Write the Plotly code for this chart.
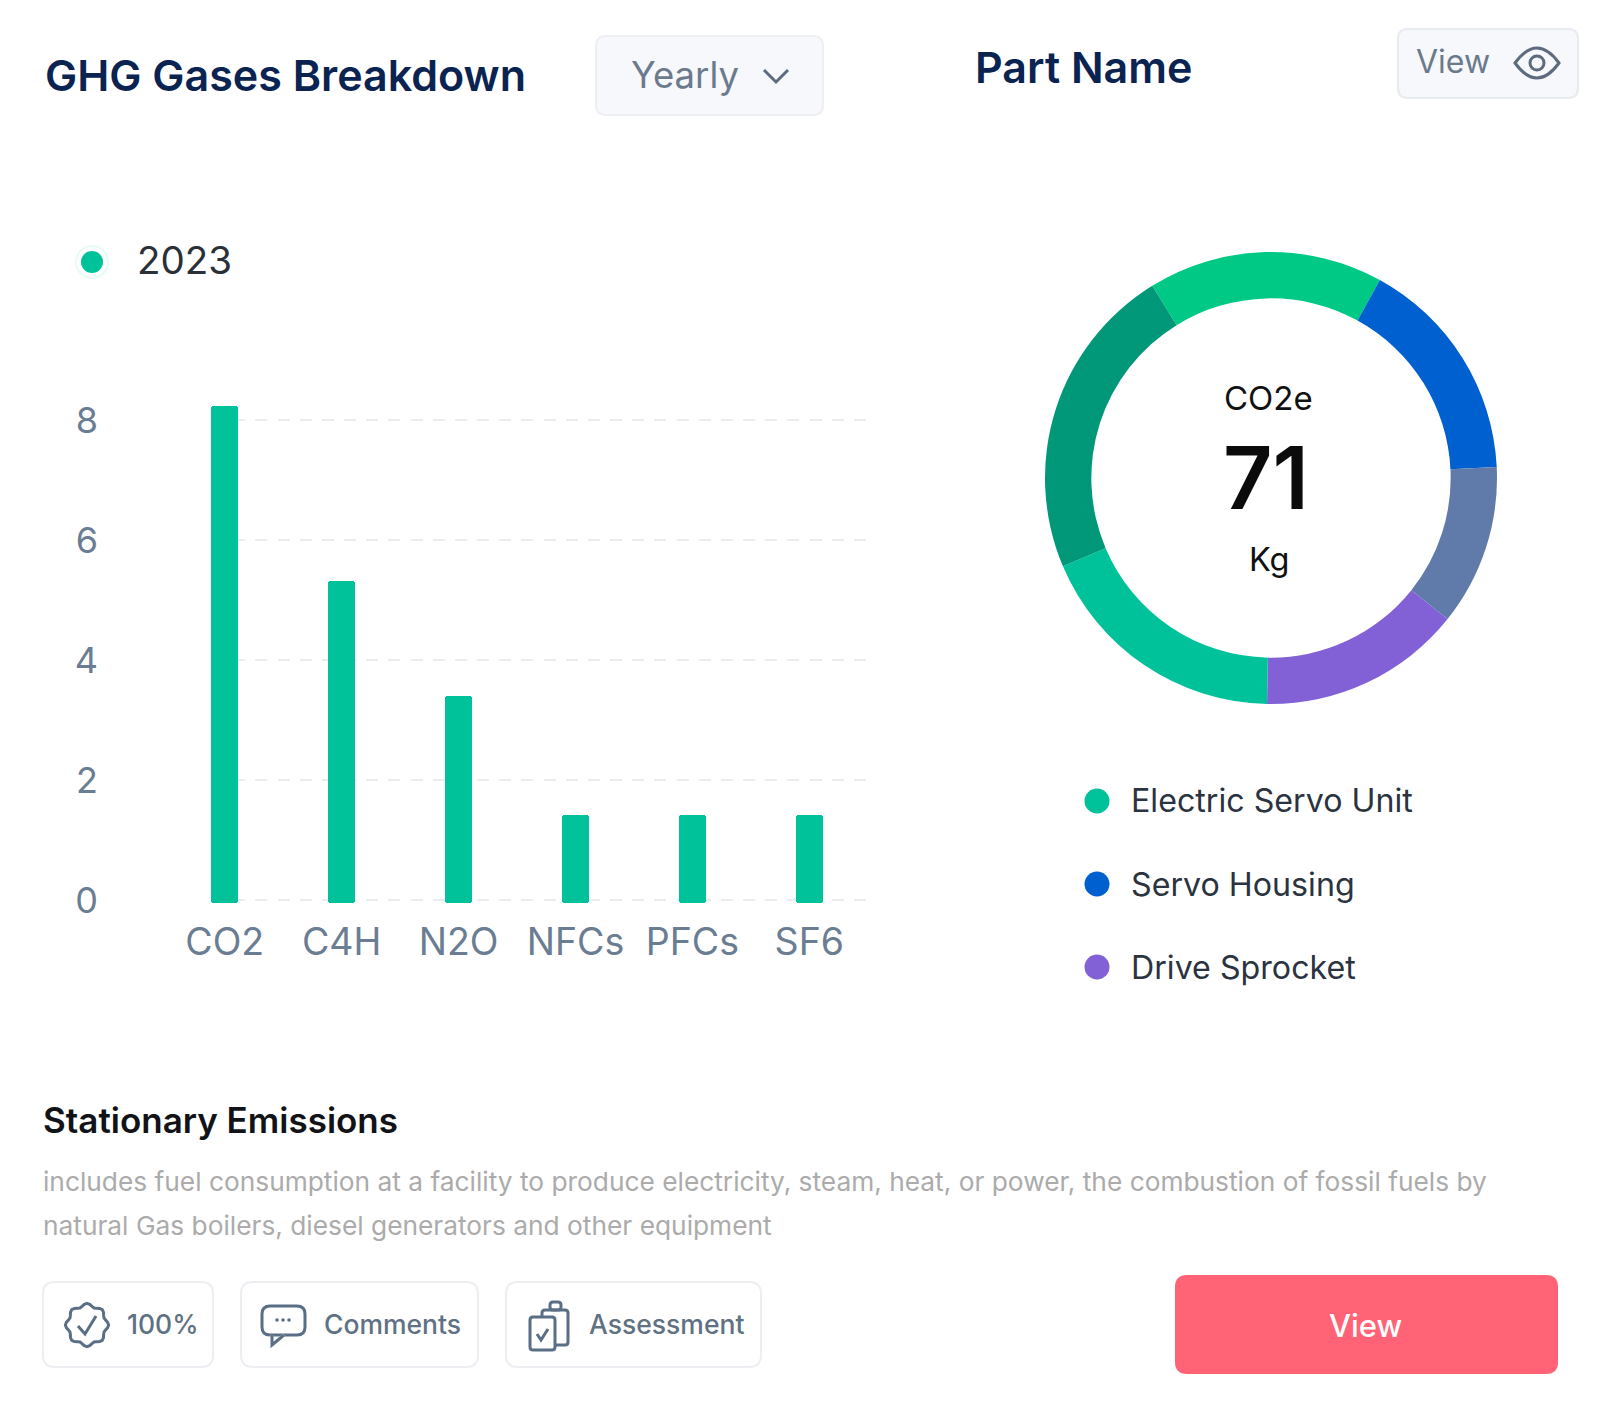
import math

import plotly.graph_objects as go

# bar chart
gases = ["CO2", "C4H", "N2O", "NFCs", "PFCs", "SF6"]
gas_values = [8.23, 5.32, 3.4, 1.42, 1.42, 1.42]
y_ticks = [0, 2, 4, 6, 8]
bar_year = "2023"

# donut, clockwise from the bright green slice
slice_names = ["Part A", "Servo Housing", "Part B", "Drive Sprocket", "Electric Servo Unit", "Part C"]
slice_values = [11.93, 11.52, 8.17, 10.33, 13.02, 16.03]
slice_colors = ["#00C985", "#0060CF", "#607BAA", "#8261D6", "#00C29A", "#009878"]
donut_total = "71"

legend_names = ["Electric Servo Unit", "Servo Housing", "Drive Sprocket"]
legend_colors = ["#00C29A", "#0060CF", "#8261D6"]

description = [
    "includes fuel consumption at a facility to produce electricity, steam, heat, or power, the combustion of fossil fuels by",
    "natural Gas boilers, diesel generators and other equipment",
]

FONT = "Inter"
W, H = 1584, 1404
PAGE_OFFSET = 8  # default body margin of the page
BAR_FOOT = 0.05  # bars start a little under the zero line


def fx(x):
    return (x - PAGE_OFFSET) / W


def fy(y):
    return 1 - (y - PAGE_OFFSET) / H


def round_rect(x0, y0, x1, y1, r):
    """Rounded rectangle as a paper-referenced svg path."""
    return (
        f"M {fx(x0 + r)} {fy(y0)} L {fx(x1 - r)} {fy(y0)} Q {fx(x1)} {fy(y0)} {fx(x1)} {fy(y0 + r)} "
        f"L {fx(x1)} {fy(y1 - r)} Q {fx(x1)} {fy(y1)} {fx(x1 - r)} {fy(y1)} "
        f"L {fx(x0 + r)} {fy(y1)} Q {fx(x0)} {fy(y1)} {fx(x0)} {fy(y1 - r)} "
        f"L {fx(x0)} {fy(y0 + r)} Q {fx(x0)} {fy(y0)} {fx(x0 + r)} {fy(y0)} Z"
    )


def polyline(pts, close=False):
    s = " ".join(("M" if i == 0 else "L") + f" {fx(x)} {fy(y)}" for i, (x, y) in enumerate(pts))
    return s + (" Z" if close else "")


def add_path(fig, path, line="#5A6F85", width=3, fill=None):
    fig.add_shape(
        type="path", path=path, xref="paper", yref="paper",
        line=dict(color=line, width=width) if line else dict(width=0),
        fillcolor=fill,
    )


def add_circle(fig, cx, cy, r, fill=None, line=None, width=0):
    fig.add_shape(
        type="circle", xref="paper", yref="paper",
        x0=fx(cx - r), x1=fx(cx + r), y0=fy(cy + r), y1=fy(cy - r),
        fillcolor=fill, line=dict(color=line, width=width) if line else dict(width=0),
    )


def add_text(fig, x, y, text, size, color, weight=400, anchor="left"):
    fig.add_annotation(
        x=fx(x), y=fy(y), xref="paper", yref="paper", text=text, showarrow=False,
        xanchor=anchor, yanchor="middle", align=anchor,
        font=dict(family=FONT, size=size, color=color, weight=weight),
    )


fig = go.Figure()

fig.add_trace(
    go.Bar(
        x=gases,
        y=[v + BAR_FOOT for v in gas_values],
        base=-BAR_FOOT,
        width=0.235,
        marker=dict(color="#00C29A", cornerradius=3, line=dict(width=0)),
        showlegend=False,
        name=bar_year,
    )
)
fig.add_trace(
    go.Pie(
        labels=slice_names,
        values=slice_values,
        marker=dict(colors=slice_colors, line=dict(width=0)),
        hole=0.795,
        sort=False,
        direction="clockwise",
        rotation=328.3,
        textinfo="none",
        domain=dict(x=[fx(1045), fx(1497)], y=[fy(704), fy(252)]),
        showlegend=False,
    )
)

# header
add_text(fig, 43, 75, "GHG Gases Breakdown", 43, "#0A2351", 600)
add_path(fig, round_rect(596, 36, 823, 115, 10), line="#EDEFF3", width=2, fill="#F6F8FB")
add_text(fig, 629, 75, "Yearly", 36.5, "#6B7A8D")
add_path(fig, polyline([(764, 70), (776, 82), (788, 70)]), line="#5C6B7D", width=3)
add_text(fig, 973, 67, "Part Name", 43, "#0A2351", 600)
add_path(fig, round_rect(1398, 29, 1578, 98, 10), line="#E8EBF0", width=2, fill="#F6F8FB")
add_text(fig, 1414, 62, "View", 32, "#6B7A8D")
# eye icon
add_path(
    fig,
    f"M {fx(1515)} {fy(63)} Q {fx(1537)} {fy(33)} {fx(1559)} {fy(63)} "
    f"Q {fx(1537)} {fy(93)} {fx(1515)} {fy(63)} Z",
    line="#5C6B7D", width=3,
)
add_circle(fig, 1537, 63, 7, line="#5C6B7D", width=3)

# bar legend
add_circle(fig, 92, 262, 17, fill="#E8FAF5")
add_circle(fig, 92, 262, 15, fill="#FFFFFF")
add_circle(fig, 92, 262, 11, fill="#00C29A")
add_text(fig, 135, 260, bar_year, 38.5, "#2B2F38")

# donut centre
add_text(fig, 1268, 398, "CO2e", 33, "#111111", anchor="center")
add_text(fig, 1266, 478, donut_total, 86, "#0B0B0B", 600, anchor="center")
add_text(fig, 1269, 560, "Kg", 32.5, "#111111", anchor="center")

# donut legend
for name, color, y in zip(legend_names, legend_colors, [801, 884, 967]):
    add_circle(fig, 1097, y, 12.5, fill=color)
    add_text(fig, 1129, y, name, 32.2, "#2B3340")

# lower text block
add_text(fig, 41, 1120, "Stationary Emissions", 35, "#111318", 600)
add_text(fig, 41, 1181, description[0], 26.3, "#ABABAB")
add_text(fig, 41, 1225, description[1], 26.3, "#ABABAB")

# small buttons
for x0, x1, tx, label in [
    (43, 213, 125, "100%"),
    (241, 478, 322, "Comments"),
    (506, 761, 587, "Assessment"),
]:
    add_path(fig, round_rect(x0, 1282, x1, 1367, 12), line="#ECEEF1", width=2, fill="#FFFFFF")
    add_text(fig, tx, 1324, label, 26.5, "#5F7183", 500)

# badge icon
badge = []
for i in range(48):
    a = 2 * math.pi * i / 48
    r = 20 + 1.6 * math.cos(8 * a)
    badge.append((87 + r * math.sin(a), 1325 - r * math.cos(a)))
add_path(fig, polyline(badge, close=True))
add_path(fig, polyline([(78, 1326), (85, 1334), (96, 1316)]))

# chat icon
add_path(fig, round_rect(262, 1306, 305, 1335, 8))
add_path(fig, polyline([(272, 1335), (272, 1345), (284, 1335)]), line="#FFFFFF", width=3)
add_path(fig, polyline([(272, 1335), (272, 1345), (284, 1335)]))
for dot_x in [277, 283, 289]:
    add_circle(fig, dot_x, 1320, 1.8, fill="#5A6F85")

# clipboard icon
add_path(fig, round_rect(542, 1310, 568, 1345, 3))
add_path(fig, round_rect(530, 1317, 555, 1350, 3), fill="#FFFFFF")
add_path(fig, round_rect(550, 1302, 561, 1310, 3))
add_path(fig, polyline([(537, 1334), (541, 1340), (548, 1329)]))

# primary button
add_path(fig, round_rect(1175, 1275, 1558, 1374, 12), line=None, fill="#FF6375")
add_text(fig, 1365, 1325, "View", 31, "#FFFFFF", 500, anchor="center")

fig.update_layout(
    width=W,
    height=H,
    margin=dict(l=0, r=0, t=0, b=0),
    autosize=False,
    paper_bgcolor="#FFFFFF",
    plot_bgcolor="#FFFFFF",
    showlegend=False,
    font=dict(family=FONT),
    bargap=0,
    xaxis=dict(
        type="category",
        domain=[fx(211), fx(866)],
        range=[-0.1175, 5.485],
        automargin=False,
        showgrid=False,
        zeroline=False,
        showline=False,
        ticks="",
        ticklabelstandoff=12,
        tickfont=dict(family=FONT, size=37.5, color="#6B7D92"),
        fixedrange=True,
    ),
    yaxis=dict(
        domain=[fy(904.8), fy(396)],
        range=[-0.08, 8.4],
        automargin=False,
        tickvals=y_ticks,
        showgrid=True,
        gridcolor="#EAECEE",
        gridwidth=2,
        griddash="12px,10.17px",
        zeroline=False,
        showline=False,
        ticks="",
        ticklabelstandoff=112,
        tickfont=dict(family=FONT, size=36, color="#6B7D92"),
        fixedrange=True,
    ),
)

fig.write_html("out.html")
